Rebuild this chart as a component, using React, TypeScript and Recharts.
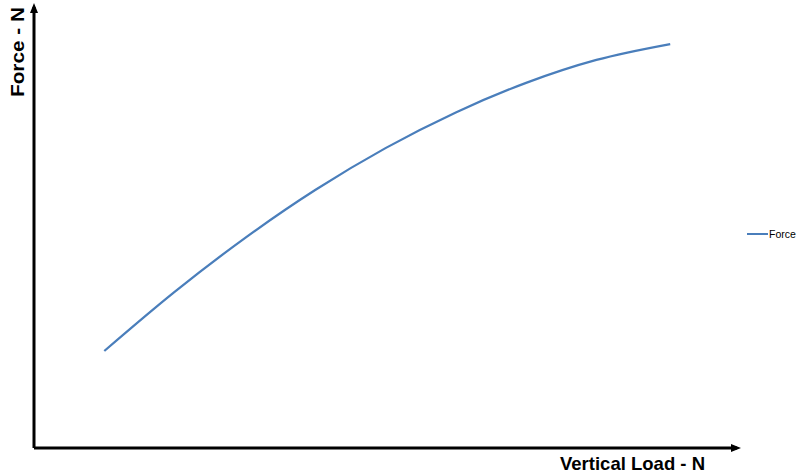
import { LineChart, Line, XAxis, YAxis, Legend } from "recharts";

// vertical load (arbitrary units) and resulting force
const loads = [1, 2, 3, 4, 5, 6, 7, 8, 9.05];
const forces = [2.2, 3.54, 4.76, 5.85, 6.8, 7.61, 8.28, 8.8, 9.16];

const data = loads.map((load, i) => ({ load, force: forces[i] }));

const LINE_COLOR = "#4A7EBB";
const FONT = "'Liberation Sans', Arial, sans-serif";

function LegendBox() {
  return (
    <div style={{ display: "flex", alignItems: "center", fontFamily: FONT, fontSize: 10.5 }}>
      <span style={{ display: "inline-block", width: 21, height: 2, background: LINE_COLOR }} />
      <span style={{ marginLeft: 1, color: "#000" }}>Force</span>
    </div>
  );
}

export default function App() {
  return (
    <div style={{ position: "absolute", left: 0, top: 0, width: 800, height: 476, background: "#fff" }}>
      <svg width={0} height={0} style={{ position: "absolute" }}>
        <defs>
          <marker
            id="arrow"
            markerUnits="userSpaceOnUse"
            markerWidth={10}
            markerHeight={8}
            refX={6}
            refY={4}
            orient="auto-start-reverse"
          >
            <path d="M0,0 L10,4 L0,8 z" fill="#000" />
          </marker>
        </defs>
      </svg>
      <LineChart width={800} height={476} data={data} margin={{ top: 7, right: 10, left: 0, bottom: 0 }}>
        <XAxis
          dataKey="load"
          type="number"
          domain={[0, 10]}
          height={28}
          tick={false}
          tickLine={false}
          axisLine={{ stroke: "#000", strokeWidth: 3, markerEnd: "url(#arrow)" }}
          label={{
            content: ({ viewBox }: any) => (
              <text
                x={viewBox.x + viewBox.width - 177}
                y={470}
                fontFamily={FONT}
                fontWeight="bold"
                fontSize={19}
                textLength={145}
                lengthAdjust="spacingAndGlyphs"
                fill="#000"
              >
                Vertical Load - N
              </text>
            ),
          }}
        />
        <YAxis
          type="number"
          domain={[0, 10]}
          width={34}
          tick={false}
          tickLine={false}
          axisLine={{ stroke: "#000", strokeWidth: 3, markerStart: "url(#arrow)" }}
          label={{
            content: () => (
              <text
                x={0}
                y={0}
                transform="translate(24, 52) rotate(-90)"
                textAnchor="middle"
                fontFamily={FONT}
                fontWeight="bold"
                fontSize={19}
                textLength={90}
                lengthAdjust="spacingAndGlyphs"
                fill="#000"
              >
                Force - N
              </text>
            ),
          }}
        />
        <Legend
          layout="vertical"
          align="right"
          verticalAlign="middle"
          content={() => <LegendBox />}
          wrapperStyle={{ width: 53, right: 0, top: 228 }}
        />
        <Line
          type="monotone"
          dataKey="force"
          name="Force"
          stroke={LINE_COLOR}
          strokeWidth={2.25}
          dot={false}
          activeDot={false}
          isAnimationActive={false}
        />
      </LineChart>
    </div>
  );
}
